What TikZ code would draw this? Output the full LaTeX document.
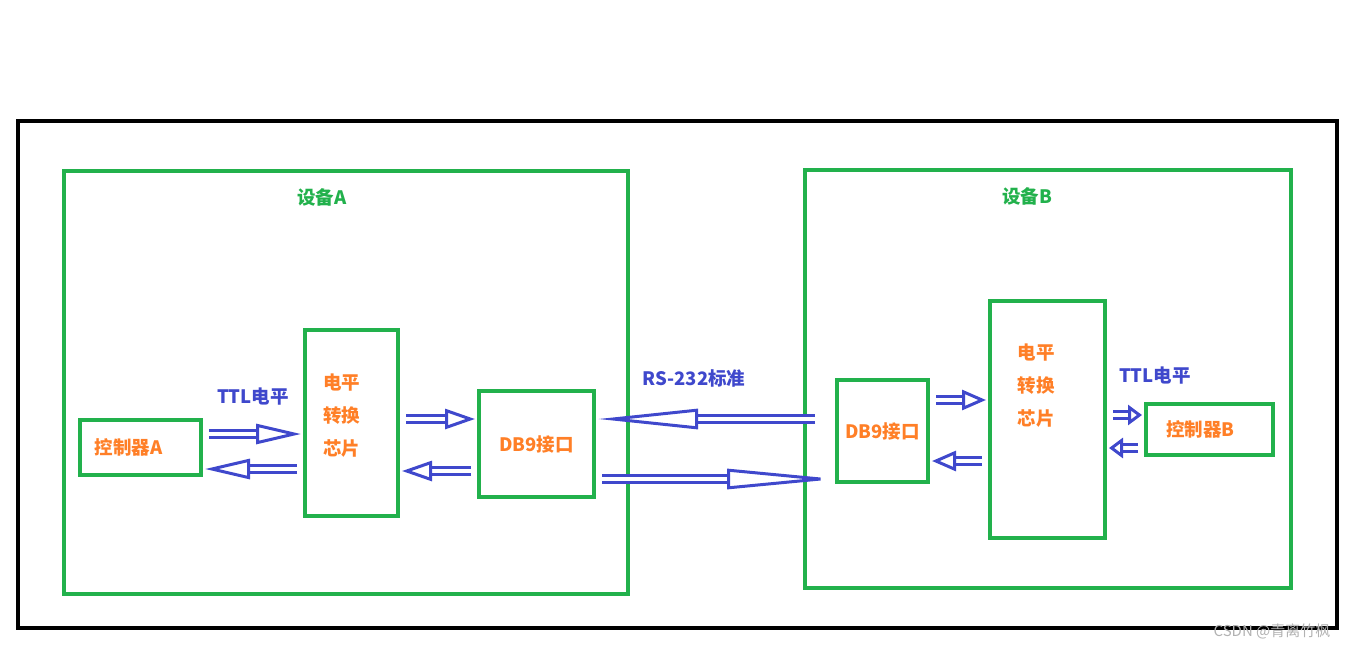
\documentclass[tikz,border=0pt]{standalone}
\usepackage{fontspec}
\setmainfont{Noto Sans CJK SC}
\usetikzlibrary{arrows.meta}
\usetikzlibrary{calc}
\definecolor{boxgreen}{HTML}{22B14C}
\definecolor{txtorange}{HTML}{FF7F27}
\definecolor{arrblue}{HTML}{3F48CC}

\begin{document}
\begin{tikzpicture}[x=1pt,y=-1pt,
  gbox/.style={draw=boxgreen, line width=4pt, inner sep=0pt},
  lbl/.style={font=\fontsize{18.5}{33}\selectfont\bfseries, inner sep=0pt},
  dbl/.style={draw=arrblue, line width=3.4pt, double=white, double distance=3.4pt,
    -{Triangle[open, length=#1, width=20pt, line width=3pt]}, shorten <=6pt, shorten >=2pt},
  dbl/.default=30pt]
\useasboundingbox (0,0) rectangle (1357,649);

\draw[line width=4pt] (18,121) rectangle (1337,628);

% device A
\node[gbox, minimum width=564, minimum height=423] (devA) at (346,382.5) {};
\node[lbl, text=boxgreen] (titleA) at (322,197) {设备A};
\node[gbox, minimum width=121, minimum height=55] (ctrlA) at (140.5,447.5) {};
\node[lbl, text=txtorange] at ($(ctrlA)+(-12,0)$) {控制器A};
\node[gbox, minimum width=93, minimum height=186] (chipA) at (351.5,423) {};
\node[lbl, text=txtorange, align=left] at ($(chipA)+(-10,-7)$) {电平\\转换\\芯片};
\node[gbox, minimum width=115, minimum height=106] (dbA) at (536.5,444) {};
\node[lbl, text=txtorange] at (dbA) {DB9接口};
\node[lbl, text=arrblue] (ttlA) at (253,397) {TTL电平};

% device B
\node[gbox, minimum width=486, minimum height=418] (devB) at (1048,379) {};
\node[lbl, text=boxgreen] (titleB) at (1027,196) {设备B};
\node[gbox, minimum width=91, minimum height=102] (dbB) at (882.5,431) {};
\node[lbl, text=txtorange] at (dbB) {DB9接口};
\node[gbox, minimum width=115, minimum height=237] (chipB) at (1047.5,419.5) {};
\node[lbl, text=txtorange, align=left] at ($(chipB)+(-11.5,-33.5)$) {电平\\转换\\芯片};
\node[gbox, minimum width=127, minimum height=51] (ctrlB) at (1209.5,429.5) {};
\node[lbl, text=txtorange] at ($(ctrlB)+(-9,0)$) {控制器B};
\node[lbl, text=arrblue] (ttlB) at (1155,376) {TTL电平};

\node[lbl, text=arrblue] (rs) at (694,378) {RS-232标准};

% arrows
\draw[dbl=45pt] (ctrlA.east |- 0,434) -- (chipA.west |- 0,434);
\draw[dbl=45pt] (chipA.west |- 0,469) -- (ctrlA.east |- 0,469);
\draw[dbl] (chipA.east |- 0,419) -- (dbA.west |- 0,419);
\draw[dbl] (dbA.west |- 0,471) -- (chipA.east |- 0,471);
\draw[dbl=100pt, shorten <=20pt] (dbB.west |- 0,419) -- (dbA.east |- 0,419);
\draw[dbl=110pt, shorten >=-2pt] (dbA.east |- 0,479) -- (dbB.west |- 0,479);
\draw[dbl=24pt] (dbB.east |- 0,400) -- (chipB.west |- 0,400);
\draw[dbl=24pt] (chipB.west |- 0,461) -- (dbB.east |- 0,461);
\draw[dbl=14pt] (chipB.east |- 0,415) -- (ctrlB.west |- 0,415);
\draw[dbl=14pt] (ctrlB.west |- 0,448) -- (chipB.east |- 0,448);

\node[text=gray!60, font=\fontsize{15}{17}\selectfont, inner sep=0pt] (mark) at (1272,631) {CSDN @青离竹枫};
\end{tikzpicture}
\end{document}
